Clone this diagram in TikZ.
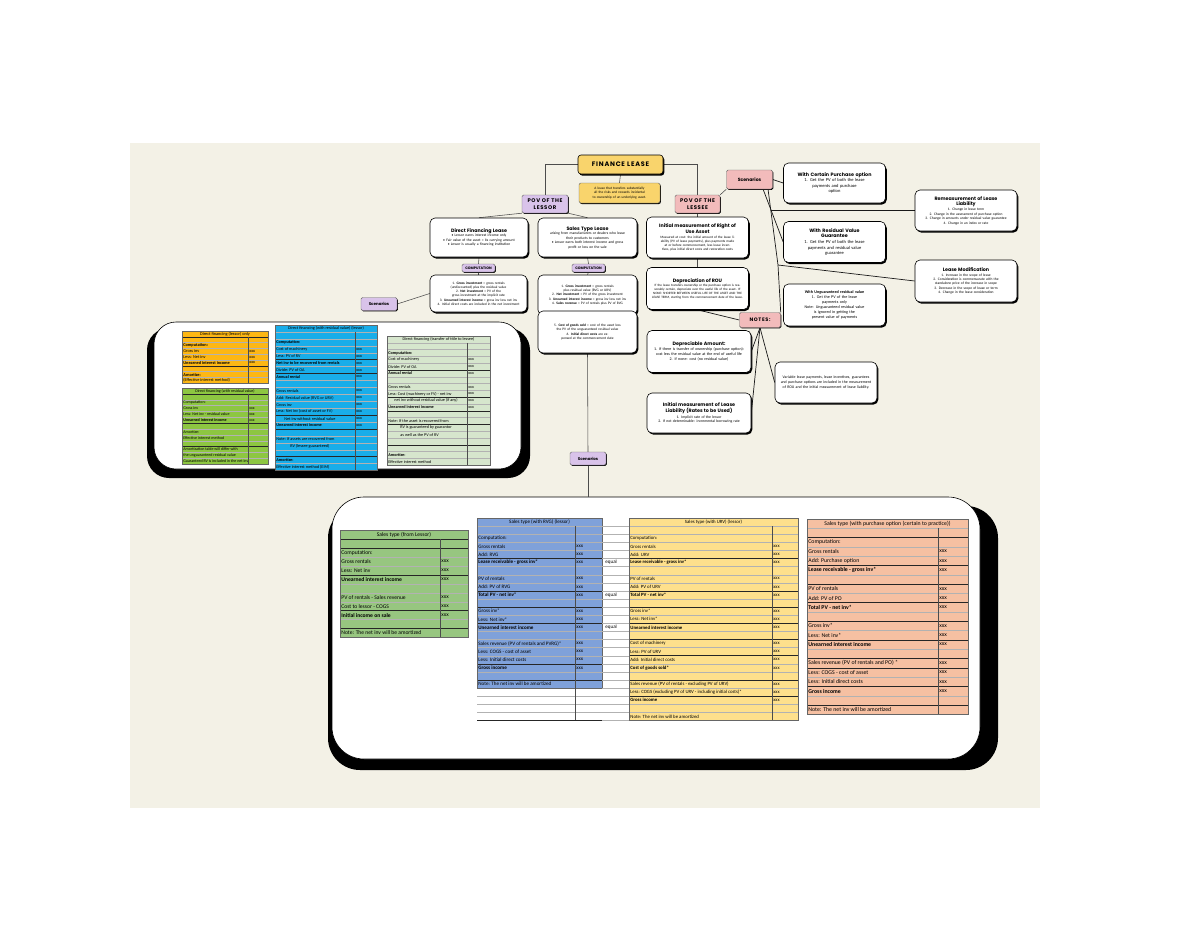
\documentclass[tikz,border=0pt]{standalone}
\usepackage{fontspec}
\setmainfont{Carlito}
\newfontfamily\pop{Poppins}
\newfontfamily\popls[LetterSpace=12]{Poppins}
\usetikzlibrary{shadows}
\pgfdeclarelayer{background}
\pgfdeclarelayer{lines}
\pgfsetlayers{background,lines,main}

\definecolor{bgbeige}{HTML}{F3F1E6}
\definecolor{flyel}{HTML}{F9D46C}
\definecolor{lav}{HTML}{D9C3EA}
\definecolor{pinkc}{HTML}{F2BBBB}
\definecolor{orc}{HTML}{FDB714}
\definecolor{grl}{HTML}{8DC641}
\definecolor{cyc}{HTML}{19ADE9}
\definecolor{lgc}{HTML}{D6E6CD}
\definecolor{grb}{HTML}{97C680}
\definecolor{blb}{HTML}{7FA1DA}
\definecolor{ylb}{HTML}{FEE08C}
\definecolor{slb}{HTML}{F6C0A2}

\newcommand\ttlf{\pop\bfseries\fontsize{4.8}{5.6}\selectfont}
\newcommand\ttl[1]{{\ttlf\begin{tabular}{@{}c@{}}#1\end{tabular}}}
\newcommand\tblfont{\fontsize{5}{5.5}\selectfont}
\newcommand\bodyf[1]{\fontsize{#1}{#1}\selectfont\baselineskip=1.22\baselineskip}

\tikzset{
  card/.style={draw=black, line width=0.6pt, fill=white, rounded corners=5pt,
    drop shadow={shadow xshift=1.3pt, shadow yshift=-1.6pt, fill=black, opacity=1},
    inner sep=2pt, align=center},
  tagbase/.style={draw=black!60, line width=0.4pt, rounded corners=1.5pt, inner sep=0pt, align=center,
    drop shadow={shadow xshift=0.8pt, shadow yshift=-0.9pt, fill=black, opacity=1}},
  conn/.style={draw=black!70, line width=0.55pt},
  conn2/.style={draw=black!90, line width=0.7pt},
  cell/.style={anchor=west, inner sep=1.2pt, font=\tblfont},
  cellv/.style={anchor=west, inner sep=1.2pt, font=\tblfont},
  rn/.style={},
  rb/.style={font=\tblfont\bfseries},
  lg/.style={draw=black!30, line width=0.25pt},
  lk/.style={draw=black!85, line width=0.6pt},
  gridv/.style={draw=black!70, line width=0.4pt},
}

% #1 prefix, #2 x0, #3 value col x, #4 x1, #5 y0, #6 pitch, #7 rows, #8 colour, #9 rows list
\newcommand\drawtbl[9]{%
  \pgfmathsetmacro\halfw{(#4-#2)/2}%
  \pgfmathsetmacro\ybot{#5+#7*#6}%
  \pgfmathsetmacro\ytwo{#5+#6}%
  \fill[#8] (#2,#5) rectangle (#4,\ybot);
  \tikzset{ttl/.style={anchor=center, xshift=\halfw pt}}%
  \foreach \lab/\val/\sty/\lst [count=\i from 0] in {#9}{%
    \pgfmathsetmacro\yb{#5+(\i+1)*#6}%
    \pgfmathsetmacro\ym{#5+(\i+0.5)*#6}%
    \draw[\lst] (#2,\yb) -- (#4,\yb);
    \node[cell,\sty] (#1r\i) at (#2,\ym) {\lab};
    \node[cellv] (#1v\i) at (#3,\ym) {\val};
  }%
  \draw[gridv] (#3,\ytwo) -- (#3,\ybot);
  \draw[black!60, line width=0.4pt] (#2,#5) rectangle (#4,\ybot);
}

\begin{document}
\begin{tikzpicture}[x=1pt,y=-1pt]
\useasboundingbox (0,0) rectangle (1200,927);

\begin{pgfonlayer}{background}
\fill[white] (0,0) rectangle (1200,927);
\fill[bgbeige] (130,143) rectangle (1040,808);
\fill[black, rounded corners=22pt] (147,328) rectangle (530,478);
\filldraw[fill=white, draw=black, line width=0.6pt, rounded corners=22pt] (154,322) rectangle (521,469);
\fill[black, rounded corners=32pt] (328,506) rectangle (998,770);
\filldraw[fill=white, draw=black, line width=0.6pt, rounded corners=32pt] (332,497) rectangle (980,759);
\end{pgfonlayer}

% ---------- top chart ----------
\node[fill=flyel, draw=black, line width=0.6pt, rounded corners=3pt,
  drop shadow={shadow xshift=1.3pt, shadow yshift=-1.6pt, fill=black, opacity=1},
  minimum width=85pt, minimum height=19pt, inner sep=0pt,
  font=\popls\bfseries\fontsize{6.5}{7.5}\selectfont] (fl) at (620.5,164.5) {FINANCE LEASE};
\node[fill=flyel, draw=black!60, line width=0.4pt, rounded corners=2pt,
  drop shadow={shadow xshift=0.8pt, shadow yshift=-1pt, fill=black, opacity=1},
  minimum width=81pt, minimum height=20pt, text width=76pt, inner sep=1pt, align=center,
  font=\fontsize{3.5}{4.3}\selectfont] (fldef) at (619.5,193)
  {A lease that transfers substantially all the risks and rewards incidental to ownership of an underlying asset.};

\node[tagbase, fill=lav, minimum width=46pt, minimum height=18pt,
  font=\popls\bfseries\fontsize{5.3}{6.4}\selectfont] (lessor) at (545,204) {POV OF THE\\LESSOR};
\node[tagbase, fill=pinkc, minimum width=45pt, minimum height=18pt,
  font=\popls\bfseries\fontsize{5.3}{6.4}\selectfont] (lessee) at (697.5,204) {POV OF THE\\LESSEE};
\node[tagbase, fill=pinkc, minimum width=46pt, minimum height=19pt,
  font=\pop\bfseries\fontsize{4.6}{5.4}\selectfont] (scen1) at (749.5,179.5) {Scenarios};

\node[card, minimum width=98pt, minimum height=39pt, text width=90pt, font=\bodyf{3.7}] (dfl) at (479,237.5)
  {\ttl{Direct Financing Lease}\\
   • Lessor earns interest income only\\
   • Fair value of the asset = its carrying amount\\
   • Lessor is usually a financing institution};
\node[card, minimum width=99pt, minimum height=39pt, text width=91pt, font=\bodyf{3.7}] (stl) at (587.5,237.5)
  {\ttl{Sales Type Lease}\\
   arising from manufacturers or dealers who lease\\ their products to customers\\
   • Lessor earns both interest income and gross\\ profit or loss on the sale};

\node[tagbase, fill=lav, minimum width=33pt, minimum height=8pt,
  font=\pop\bfseries\fontsize{3.5}{4}\selectfont] (comp1) at (478.5,268) {COMPUTATION};
\node[tagbase, fill=lav, minimum width=33pt, minimum height=8pt,
  font=\pop\bfseries\fontsize{3.5}{4}\selectfont] (comp2) at (588.5,268) {COMPUTATION};

\node[card, minimum width=97pt, minimum height=37pt, text width=89pt, font=\bodyf{3.5}] (dflc) at (478.5,293.5)
  {1. \textbf{Gross investment} = gross rentals (undiscounted) plus the residual value\\
   2. \textbf{Net investment} = PV of the gross investment at the implicit rate\\
   3. \textbf{Unearned interest income} = gross inv less net inv\\
   4. Initial direct costs are included in the net investment};
\node[card, minimum width=99pt, minimum height=40pt, text width=91pt, font=\bodyf{3.5}] (stlc1) at (587.5,295)
  {1. \textbf{Gross investment} = gross rentals plus residual value (RVG or URV)\\
   2. \textbf{Net investment} = PV of the gross investment\\
   3. \textbf{Unearned interest income} = gross inv less net inv\\
   4. \textbf{Sales revenue} = PV of rentals plus PV of RVG};
\node[card, minimum width=99pt, minimum height=42pt, text width=91pt, font=\bodyf{3.5}] (stlc2) at (587.5,332)
  {5. \textbf{Cost of goods sold} = cost of the asset less the PV of the unguaranteed residual value\\
   6. \textbf{Initial direct costs} are expensed at the commencement date};

\node[tagbase, fill=lav, minimum width=36pt, minimum height=13pt,
  font=\pop\bfseries\fontsize{4}{4.8}\selectfont] (scen2) at (379,304) {Scenarios};
\node[tagbase, fill=lav, minimum width=36pt, minimum height=13pt,
  font=\pop\bfseries\fontsize{4}{4.8}\selectfont] (scen3) at (588,458.5) {Scenarios};
\coordinate (bbtop) at (588,497);

% lessee side
\node[card, minimum width=102pt, minimum height=41pt, text width=94pt, font=\bodyf{3.4}] (rou) at (697.5,237.5)
  {\ttl{Initial measurement of Right of\\ Use Asset}\\
   Measured at cost: the initial amount of the lease liability (PV of lease payments), plus payments made at or before commencement, less lease incentives, plus initial direct costs and restoration costs};
\node[card, minimum width=102pt, minimum height=42pt, text width=94pt, font=\bodyf{3.3}] (dep) at (697.5,288.5)
  {\ttl{Depreciation of ROU}\\
   If the lease transfers ownership or the purchase option is reasonably certain, depreciate over the useful life of the asset.
   IF NONE: SHORTER BETWEEN USEFUL LIFE OF THE ASSET AND THE LEASE TERM, starting from the commencement date of the lease.};
\node[tagbase, fill=pinkc, minimum width=41pt, minimum height=15pt,
  font=\popls\bfseries\fontsize{5}{6}\selectfont] (notes) at (760,320) {NOTES:};
\node[card, minimum width=104pt, minimum height=42pt, text width=96pt, font=\bodyf{4}] (depam) at (699,351.5)
  {\ttl{Depreciable Amount:}\\
   1. If there is transfer of ownership (purchase option): cost less the residual value at the end of useful life\\
   2. If none: cost (no residual value)};
\node[card, minimum width=104pt, minimum height=40pt, text width=96pt, font=\bodyf{3.8}] (ill) at (699,413)
  {\ttl{Initial measurement of Lease\\ Liability (Rates to be Used)}\\
   1. Implicit rate of the lessor\\
   2. If not determinable: incremental borrowing rate};
\node[card, minimum width=102pt, minimum height=41pt, text width=94pt, font=\bodyf{3.9}] (note2) at (826,382.5)
  {Variable lease payments, lease incentives, guarantees and purchase options are included in the measurement of ROU and the initial measurement of lease liability.};

\node[card, minimum width=102pt, minimum height=40pt, text width=94pt, font=\bodyf{4.5}] (wpo) at (834.5,183)
  {\ttl{With Certain Purchase option}\\
   1. Get the PV of both the lease\\ payments and purchase\\ option};
\node[card, minimum width=102pt, minimum height=41pt, text width=94pt, font=\bodyf{4.5}] (wrv) at (834.5,242)
  {\ttl{With Residual Value\\ Guarantee}\\
   1. Get the PV of both the lease\\ payments and residual value\\ guarantee};
\node[card, minimum width=102pt, minimum height=42pt, text width=94pt, font=\bodyf{4.1}] (wurv) at (834.5,305)
  {\textbf{With Unguaranteed residual value}\\
   1. Get the PV of the lease\\ payments only\\
   Note: Unguaranteed residual value\\ is ignored in getting the\\ present value of payments};
\node[card, minimum width=102pt, minimum height=41pt, text width=94pt, font=\bodyf{3.6}] (remeas) at (966,210.5)
  {\ttl{Remeasurement of Lease\\ Liability}\\
   1. Change in lease term\\
   2. Change in the assessment of purchase option\\
   3. Change in amounts under residual value guarantee\\
   4. Change in an index or rate};
\node[card, minimum width=102pt, minimum height=42pt, text width=94pt, font=\bodyf{3.6}] (lmod) at (966,281)
  {\ttl{Lease Modification}\\
   1. Increase in the scope of lease\\
   2. Consideration is commensurate with the\\ standalone price of the increase in scope\\
   3. Decrease in the scope of lease or term\\
   4. Change in the lease consideration};

\coordinate (s1a) at (763,189);
\coordinate (s1b) at (768,189);
\coordinate (k1) at (770.8,210.5);
\coordinate (k2) at (778,265);

% connectors
\begin{pgfonlayer}{lines}
\draw[conn] (fl.west) -| (lessor.north);
\draw[conn] (fl.east) -| (lessee.north);
\draw[conn] (fl.south) -- (fldef.north);
\draw[conn] (lessor.south west) -- (dfl.north);
\draw[conn] (lessor.south east) -- (stl.north);
\draw[conn] (dfl.south) -- (comp1.north);
\draw[conn] (comp1.south) -- (dflc.north);
\draw[conn] (stl.south) -- (comp2.north);
\draw[conn] (comp2.south) -- (stlc1.north);
\draw[conn] (stlc2.south) -- (scen3.north);
\draw[conn] (scen3.south) -- (bbtop);
\draw[conn] (scen2.east) -- (dflc.west);
\draw[conn] (lessee.north east) -- (scen1.south west);
\draw[conn] (lessee.south) -- (rou.north);
\draw[conn] (rou.south) -- (dep.north);
\draw[conn2] (scen1.east) -- (wpo.west);
\draw[conn2] (s1a) -- (wrv.west);
\draw[conn2] (s1b) -- (k2) -- (notes.north east);
\draw[conn2] (k1) -- (remeas.west);
\draw[conn2] (k2) -- (lmod.west);
\draw[conn2] (notes.west) -- (dep.south);
\draw[conn2] (notes.south) -- (depam.east);
\draw[conn2] (notes.south) -- (ill.east);
\draw[conn2] (notes.south) -- (note2.west);
\end{pgfonlayer}

% ---------- left tables ----------
\renewcommand\tblfont{\fontsize{4.3}{4.6}\selectfont}
\drawtbl{or}{182}{248}{268}{331}{5.8}{9}{orc}{
  Direct financing (lessor) only/{}/ttl/lk,
  {}/{}/rn/lg,
  Computation:/{}/rb/lg,
  Gross inv/xxx/rn/lg,
  Less: Net inv/xxx/rn/lg,
  Unearned interest income/xxx/rb/lk,
  {}/{}/rn/lg,
  Amortize:/{}/rb/lg,
  (Effective interest method)/{}/rn/lg}

\renewcommand\tblfont{\fontsize{4}{4.4}\selectfont}
\drawtbl{gl}{182}{248}{268}{388}{5.85}{13}{grl}{
  Direct financing (with residual value)/{}/ttl/lk,
  {}/{}/rn/lg,
  Computation:/{}/rn/lg,
  Gross inv/xxx/rn/lg,
  Less: Net inv - residual value/xxx/rn/lg,
  Unearned interest income/xxx/rb/lk,
  {}/{}/rn/lg,
  Amortize:/{}/rn/lg,
  Effective interest method/{}/rn/lg,
  {}/{}/rn/lk,
  Amortization table will differ with/{}/rn/lg,
  the unguaranteed residual value/{}/rn/lg,
  Guaranteed RV is included in the net inv/{}/rn/lg}

\renewcommand\tblfont{\fontsize{4.2}{4.6}\selectfont}
\drawtbl{cy}{275}{355}{377}{325}{6.93}{21}{cyc}{
  Direct financing (with residual value) (lessor)/{}/ttl/lg,
  {}/{}/rn/lg,
  Computation:/{}/rb/lg,
  Cost of machinery/xxx/rn/lg,
  Less: PV of RV/xxx/rn/lk,
  Net inv to be recovered from rentals/xxx/rb/lg,
  Divide: PV of OA/xxx/rn/lk,
  Annual rental/xxx/rb/lg,
  {}/{}/rn/lg,
  Gross rentals/xxx/rn/lg,
  Add: Residual value (RVG or URV)/xxx/rn/lg,
  Gross inv/xxx/rn/lg,
  Less: Net inv (cost of asset or FV)/xxx/rn/lk,
  {\hspace{8pt}Net inv without residual value}/xxx/rn/lg,
  Unearned interest income/xxx/rb/lk,
  {}/{}/rn/lg,
  Note: If assets are recovered from/{}/rn/lg,
  {\hspace{14pt}RV (lessee guaranteed)}/{}/rn/lg,
  {}/{}/rn/lk,
  Amortize:/{}/rb/lg,
  Effective interest method (EIM)/{}/rn/lg}

\renewcommand\tblfont{\fontsize{4.2}{4.6}\selectfont}
\drawtbl{lt}{387}{467}{490}{336}{6.8}{19}{lgc}{
  Direct financing (transfer of title to lessee)/{}/ttl/lg,
  {}/{}/rn/lg,
  Computation:/{}/rb/lg,
  Cost of machinery/xxx/rn/lg,
  Divide: PV of OA/xxx/rn/lk,
  Annual rental/xxx/rb/lg,
  {}/{}/rn/lg,
  Gross rentals/xxx/rn/lg,
  Less: Cost (machinery or FV) - net inv/xxx/rn/lk,
  {\hspace{6pt}net inv without residual value (if any)}/xxx/rn/lg,
  Unearned interest income/xxx/rb/lk,
  {}/{}/rn/lg,
  Note: If the asset is recovered from/{}/rn/lk,
  {\hspace{12pt}RV is guaranteed by guarantor}/{}/rn/lg,
  {\hspace{12pt}as well as the PV of RV}/{}/rn/lg,
  {}/{}/rn/lk,
  {}/{}/rn/lg,
  Amortize:/{}/rb/lg,
  Effective interest method/{}/rn/lg}

% ---------- bottom tables ----------
\renewcommand\tblfont{\fontsize{5.6}{6}\selectfont}
\drawtbl{gb}{340}{440}{468}{530.5}{8.9}{12}{grb}{
  Sales type (from Lessor)/{}/ttl/lk,
  {}/{}/rn/lk,
  Computation:/{}/rn/lg,
  Gross rentals/xxx/rn/lg,
  Less: Net inv/xxx/rn/lk,
  Unearned interest income/xxx/rb/lg,
  {}/{}/rn/lg,
  PV of rentals - Sales revenue/xxx/rn/lg,
  Cost to lessor - COGS/xxx/rn/lk,
  Initial income on sale/xxx/rb/lg,
  {}/{}/rn/lk,
  Note: The net inv will be amortized/{}/rn/lg}

\renewcommand\tblfont{\fontsize{5.1}{5.5}\selectfont}
\drawtbl{bb}{477}{575}{602}{518}{8.1}{21}{blb}{
  Sales type (with RVG) (lessor)/{}/ttl/lg,
  {}/{}/rn/lg,
  Computation:/{}/rn/lg,
  Gross rentals/xxx/rn/lg,
  Add: RVG/xxx/rn/lk,
  Lease receivable - gross inv*/xxx/rb/lg,
  {}/{}/rn/lg,
  PV of rentals/xxx/rn/lg,
  Add: PV of RVG/xxx/rn/lk,
  Total PV - net inv*/xxx/rb/lg,
  {}/{}/rn/lk,
  Gross inv*/xxx/rn/lg,
  Less: Net inv*/xxx/rn/lk,
  Unearned interest income/xxx/rb/lg,
  {}/{}/rn/lg,
  Sales revenue (PV of rentals and PVRG)*/xxx/rn/lg,
  Less: COGS - cost of asset/xxx/rn/lg,
  Less: Initial direct costs/xxx/rn/lk,
  Gross income/xxx/rb/lg,
  {}/{}/rn/lk,
  Note: The net inv will be amortized/{}/rn/lg}
\foreach \k in {1,...,4}{\draw[lg] (477,{688.1+\k*8.1}) -- (602,{688.1+\k*8.1});}
\draw[gridv] (575,688.1) -- (575,720.5);
\draw[lk] (477,720.5) -- (629,720.5);
\foreach \k in {1,...,25}{\draw[lg] (602,{518+\k*8.1}) -- (629,{518+\k*8.1});}
\node[cell] (eq1) at (604,562.55) {equal};
\node[cell] (eq2) at (604,594.95) {equal};
\node[cell] (eq3) at (604,627.35) {equal};

\renewcommand\tblfont{\fontsize{4.8}{5.2}\selectfont}
\drawtbl{yb}{629}{772}{798}{518}{8.1}{25}{ylb}{
  Sales type (with URV) (lessor)/{}/ttl/lg,
  {}/{}/rn/lg,
  Computation:/{}/rn/lg,
  Gross rentals/xxx/rn/lg,
  Add: URV/xxx/rn/lk,
  Lease receivable - gross inv*/xxx/rb/lg,
  {}/{}/rn/lg,
  PV of rentals/xxx/rn/lg,
  Add: PV of URV/xxx/rn/lk,
  Total PV - net inv*/xxx/rb/lg,
  {}/{}/rn/lk,
  Gross inv*/xxx/rn/lg,
  Less: Net inv*/xxx/rn/lk,
  Unearned interest income/xxx/rb/lg,
  {}/{}/rn/lk,
  Cost of machinery/xxx/rn/lg,
  Less: PV of URV/xxx/rn/lk,
  Add: Initial direct costs/xxx/rn/lg,
  Cost of goods sold*/xxx/rb/lg,
  {}/{}/rn/lk,
  Sales revenue (PV of rentals - excluding PV of URV)/xxx/rn/lg,
  Less: COGS (excluding PV of URV - including initial costs)*/xxx/rn/lk,
  Gross income/xxx/rb/lg,
  {}/{}/rn/lg,
  Note: The net inv will be amortized/{}/rn/lk}

\renewcommand\tblfont{\fontsize{5.8}{6.2}\selectfont}
\drawtbl{sb}{807}{938}{968}{519}{9.3}{21}{slb}{
  Sales type (with purchase option (certain to practice))/{}/ttl/lg,
  {}/{}/rn/lk,
  Computation:/{}/rn/lg,
  Gross rentals/xxx/rn/lg,
  Add: Purchase option/xxx/rn/lk,
  Lease receivable - gross inv*/xxx/rb/lg,
  {}/{}/rn/lk,
  PV of rentals/xxx/rn/lg,
  Add: PV of PO/xxx/rn/lk,
  Total PV - net inv*/xxx/rb/lg,
  {}/{}/rn/lk,
  Gross inv*/xxx/rn/lg,
  Less: Net inv*/xxx/rn/lk,
  Unearned interest income/xxx/rb/lg,
  {}/{}/rn/lk,
  Sales revenue (PV of rentals and PO) */xxx/rn/lk,
  Less: COGS - cost of asset/xxx/rn/lg,
  Less: Initial direct costs/xxx/rn/lk,
  Gross income/xxx/rb/lg,
  {}/{}/rn/lk,
  Note: The net inv will be amortized/{}/rn/lg}

\end{tikzpicture}
\end{document}
